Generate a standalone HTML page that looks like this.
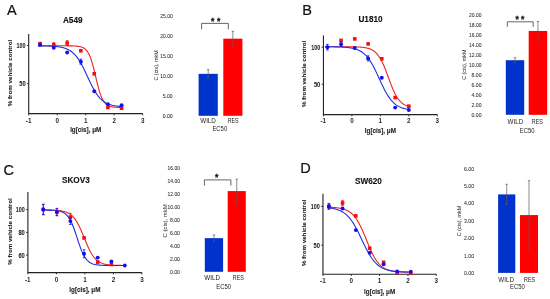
<!DOCTYPE html>
<html><head><meta charset="utf-8"><style>
html,body{margin:0;padding:0;background:#fff;}
body{width:550px;height:299px;overflow:hidden;}
svg{display:block;font-family:"Liberation Sans", sans-serif;filter:blur(0.35px);}
</style></head><body>
<svg width="550" height="299" viewBox="0 0 550 299">
<rect width="550" height="299" fill="#fff"/>
<path d="M28.70 34.00 V113.60 H142.70" fill="none" stroke="#222" stroke-width="1.1"/>
<line x1="28.70" y1="113.60" x2="28.70" y2="115.40" stroke="#222" stroke-width="0.9"/>
<text x="28.60" y="122.60" font-size="6.3" font-weight="bold" text-anchor="middle" fill="#2a2a2a">-1</text>
<line x1="57.20" y1="113.60" x2="57.20" y2="115.40" stroke="#222" stroke-width="0.9"/>
<text x="57.20" y="122.60" font-size="6.3" font-weight="bold" text-anchor="middle" fill="#2a2a2a">0</text>
<line x1="85.70" y1="113.60" x2="85.70" y2="115.40" stroke="#222" stroke-width="0.9"/>
<text x="85.70" y="122.60" font-size="6.3" font-weight="bold" text-anchor="middle" fill="#2a2a2a">1</text>
<line x1="114.20" y1="113.60" x2="114.20" y2="115.40" stroke="#222" stroke-width="0.9"/>
<text x="114.20" y="122.60" font-size="6.3" font-weight="bold" text-anchor="middle" fill="#2a2a2a">2</text>
<line x1="142.70" y1="113.60" x2="142.70" y2="115.40" stroke="#222" stroke-width="0.9"/>
<text x="142.70" y="122.60" font-size="6.3" font-weight="bold" text-anchor="middle" fill="#2a2a2a">3</text>
<line x1="26.90" y1="45.50" x2="28.70" y2="45.50" stroke="#222" stroke-width="0.9"/>
<text x="16.60" y="48.00" font-size="6.3" font-weight="bold" textLength="9.0" lengthAdjust="spacingAndGlyphs" fill="#222" stroke="#222" stroke-width="0.05">100</text>
<line x1="26.90" y1="83.70" x2="28.70" y2="83.70" stroke="#222" stroke-width="0.9"/>
<text x="19.20" y="86.20" font-size="6.3" font-weight="bold" textLength="6.4" lengthAdjust="spacingAndGlyphs" fill="#222" stroke="#222" stroke-width="0.05">50</text>
<text x="72.75" y="22.80" font-size="8.2" font-weight="bold" text-anchor="middle" fill="#111" stroke="#111" stroke-width="0.12">A549</text>
<text x="85.70" y="132.40" font-size="6.3" font-weight="bold" text-anchor="middle" fill="#222" stroke="#222" stroke-width="0.1">lg[cis], μM</text>
<text transform="translate(12.00 73.00) rotate(-90)" x="0" y="0" font-size="6.2" font-weight="bold" text-anchor="middle" fill="#222" stroke="#222" stroke-width="0.1">% from vehicle control</text>
<path d="M38.00 45.80 L38.71 45.80 L39.42 45.80 L40.12 45.80 L40.83 45.80 L41.54 45.80 L42.25 45.80 L42.96 45.80 L43.67 45.80 L44.38 45.80 L45.08 45.80 L45.79 45.80 L46.50 45.80 L47.21 45.80 L47.92 45.80 L48.62 45.80 L49.33 45.80 L50.04 45.80 L50.75 45.80 L51.46 45.80 L52.17 45.80 L52.88 45.80 L53.58 45.80 L54.29 45.80 L55.00 45.80 L55.71 45.80 L56.42 45.80 L57.12 45.80 L57.83 45.80 L58.54 45.80 L59.25 45.80 L59.96 45.80 L60.67 45.80 L61.38 45.80 L62.08 45.81 L62.79 45.81 L63.50 45.81 L64.21 45.81 L64.92 45.81 L65.62 45.82 L66.33 45.82 L67.04 45.82 L67.75 45.83 L68.46 45.83 L69.17 45.84 L69.88 45.85 L70.58 45.86 L71.29 45.88 L72.00 45.89 L72.71 45.91 L73.42 45.94 L74.12 45.97 L74.83 46.00 L75.54 46.04 L76.25 46.10 L76.96 46.16 L77.67 46.24 L78.38 46.33 L79.08 46.44 L79.79 46.58 L80.50 46.74 L81.21 46.94 L81.92 47.18 L82.63 47.47 L83.33 47.81 L84.04 48.23 L84.75 48.72 L85.46 49.32 L86.17 50.02 L86.88 50.85 L87.58 51.83 L88.29 52.97 L89.00 54.30 L89.71 55.83 L90.42 57.58 L91.12 59.54 L91.83 61.73 L92.54 64.14 L93.25 66.74 L93.96 69.51 L94.67 72.40 L95.38 75.38 L96.08 78.38 L96.79 81.34 L97.50 84.22 L98.21 86.97 L98.92 89.54 L99.62 91.92 L100.33 94.07 L101.04 96.00 L101.75 97.72 L102.46 99.21 L103.17 100.51 L103.88 101.63 L104.58 102.59 L105.29 103.40 L106.00 104.08 L106.71 104.66 L107.42 105.14 L108.12 105.55 L108.83 105.88 L109.54 106.16 L110.25 106.39 L110.96 106.59 L111.67 106.75 L112.38 106.88 L113.08 106.99 L113.79 107.08 L114.50 107.15 L115.21 107.21 L115.92 107.26 L116.62 107.31 L117.33 107.34 L118.04 107.37 L118.75 107.39 L119.46 107.41 L120.17 107.43 L120.88 107.44 L121.58 107.45 L122.29 107.46 L123.00 107.47" fill="none" stroke="#ee2222" stroke-width="1.1"/>
<path d="M38.00 45.86 L38.71 45.86 L39.42 45.87 L40.12 45.88 L40.83 45.88 L41.54 45.89 L42.25 45.90 L42.96 45.91 L43.67 45.93 L44.38 45.94 L45.08 45.95 L45.79 45.97 L46.50 45.99 L47.21 46.01 L47.92 46.03 L48.62 46.05 L49.33 46.08 L50.04 46.11 L50.75 46.14 L51.46 46.18 L52.17 46.22 L52.88 46.26 L53.58 46.31 L54.29 46.36 L55.00 46.42 L55.71 46.48 L56.42 46.56 L57.12 46.63 L57.83 46.72 L58.54 46.82 L59.25 46.92 L59.96 47.04 L60.67 47.16 L61.38 47.30 L62.08 47.46 L62.79 47.63 L63.50 47.81 L64.21 48.02 L64.92 48.24 L65.62 48.49 L66.33 48.76 L67.04 49.05 L67.75 49.38 L68.46 49.73 L69.17 50.11 L69.88 50.53 L70.58 50.99 L71.29 51.48 L72.00 52.02 L72.71 52.60 L73.42 53.23 L74.12 53.91 L74.83 54.65 L75.54 55.43 L76.25 56.27 L76.96 57.17 L77.67 58.13 L78.38 59.14 L79.08 60.22 L79.79 61.35 L80.50 62.54 L81.21 63.78 L81.92 65.08 L82.63 66.43 L83.33 67.82 L84.04 69.25 L84.75 70.71 L85.46 72.20 L86.17 73.72 L86.88 75.24 L87.58 76.77 L88.29 78.30 L89.00 79.83 L89.71 81.33 L90.42 82.81 L91.12 84.26 L91.83 85.67 L92.54 87.04 L93.25 88.36 L93.96 89.63 L94.67 90.85 L95.38 92.01 L96.08 93.12 L96.79 94.16 L97.50 95.15 L98.21 96.08 L98.92 96.95 L99.62 97.76 L100.33 98.52 L101.04 99.22 L101.75 99.88 L102.46 100.49 L103.17 101.05 L103.88 101.56 L104.58 102.04 L105.29 102.48 L106.00 102.88 L106.71 103.25 L107.42 103.59 L108.12 103.89 L108.83 104.18 L109.54 104.43 L110.25 104.67 L110.96 104.88 L111.67 105.08 L112.38 105.26 L113.08 105.42 L113.79 105.57 L114.50 105.70 L115.21 105.82 L115.92 105.93 L116.62 106.03 L117.33 106.12 L118.04 106.21 L118.75 106.28 L119.46 106.35 L120.17 106.41 L120.88 106.47 L121.58 106.52 L122.29 106.56 L123.00 106.60" fill="none" stroke="#1f2de0" stroke-width="1.1"/>
<rect x="38.30" y="41.80" width="3.6" height="3.6" fill="#f01010"/>
<path d="M53.78 42.60 V47.00 M52.48 42.60 H55.08 M52.48 47.00 H55.08" stroke="#f01010" stroke-width="0.8" fill="none"/>
<rect x="51.98" y="43.00" width="3.6" height="3.6" fill="#f01010"/>
<path d="M67.17 40.60 V45.60 M65.88 40.60 H68.47 M65.88 45.60 H68.47" stroke="#f01010" stroke-width="0.8" fill="none"/>
<rect x="65.38" y="41.30" width="3.6" height="3.6" fill="#f01010"/>
<rect x="79.06" y="49.00" width="3.6" height="3.6" fill="#f01010"/>
<rect x="92.45" y="72.00" width="3.6" height="3.6" fill="#f01010"/>
<rect x="106.13" y="105.70" width="3.6" height="3.6" fill="#f01010"/>
<rect x="119.81" y="106.50" width="3.6" height="3.6" fill="#f01010"/>
<circle cx="40.10" cy="44.70" r="1.95" fill="#1010ee"/>
<circle cx="53.78" cy="47.80" r="1.95" fill="#1010ee"/>
<circle cx="67.17" cy="52.50" r="1.95" fill="#1010ee"/>
<path d="M80.86 59.10 V64.30 M79.56 59.10 H82.16 M79.56 64.30 H82.16" stroke="#1010ee" stroke-width="0.8" fill="none"/>
<circle cx="80.86" cy="61.70" r="1.95" fill="#1010ee"/>
<circle cx="94.25" cy="91.30" r="1.95" fill="#1010ee"/>
<circle cx="107.93" cy="104.20" r="1.95" fill="#1010ee"/>
<circle cx="121.61" cy="105.30" r="1.95" fill="#1010ee"/>
<path d="M323.43 35.60 V114.60 H437.31" fill="none" stroke="#222" stroke-width="1.1"/>
<line x1="323.43" y1="114.60" x2="323.43" y2="116.40" stroke="#222" stroke-width="0.9"/>
<text x="323.33" y="123.00" font-size="6.3" font-weight="bold" text-anchor="middle" fill="#2a2a2a">-1</text>
<line x1="351.90" y1="114.60" x2="351.90" y2="116.40" stroke="#222" stroke-width="0.9"/>
<text x="351.90" y="123.00" font-size="6.3" font-weight="bold" text-anchor="middle" fill="#2a2a2a">0</text>
<line x1="380.37" y1="114.60" x2="380.37" y2="116.40" stroke="#222" stroke-width="0.9"/>
<text x="380.37" y="123.00" font-size="6.3" font-weight="bold" text-anchor="middle" fill="#2a2a2a">1</text>
<line x1="408.84" y1="114.60" x2="408.84" y2="116.40" stroke="#222" stroke-width="0.9"/>
<text x="408.84" y="123.00" font-size="6.3" font-weight="bold" text-anchor="middle" fill="#2a2a2a">2</text>
<line x1="437.31" y1="114.60" x2="437.31" y2="116.40" stroke="#222" stroke-width="0.9"/>
<text x="437.31" y="123.00" font-size="6.3" font-weight="bold" text-anchor="middle" fill="#2a2a2a">3</text>
<line x1="321.63" y1="47.20" x2="323.43" y2="47.20" stroke="#222" stroke-width="0.9"/>
<text x="311.33" y="49.70" font-size="6.3" font-weight="bold" textLength="9.0" lengthAdjust="spacingAndGlyphs" fill="#222" stroke="#222" stroke-width="0.05">100</text>
<line x1="321.63" y1="84.30" x2="323.43" y2="84.30" stroke="#222" stroke-width="0.9"/>
<text x="313.93" y="86.80" font-size="6.3" font-weight="bold" textLength="6.4" lengthAdjust="spacingAndGlyphs" fill="#222" stroke="#222" stroke-width="0.05">50</text>
<text x="370.50" y="21.70" font-size="8.2" font-weight="bold" text-anchor="middle" fill="#111" stroke="#111" stroke-width="0.12">U1810</text>
<text x="380.37" y="132.60" font-size="6.3" font-weight="bold" text-anchor="middle" fill="#222" stroke="#222" stroke-width="0.1">lg[cis], μM</text>
<text transform="translate(306.30 73.90) rotate(-90)" x="0" y="0" font-size="6.2" font-weight="bold" text-anchor="middle" fill="#222" stroke="#222" stroke-width="0.1">% from vehicle control</text>
<path d="M325.00 46.70 L325.71 46.70 L326.42 46.70 L327.12 46.70 L327.83 46.70 L328.54 46.70 L329.25 46.70 L329.96 46.70 L330.67 46.70 L331.38 46.70 L332.08 46.70 L332.79 46.70 L333.50 46.70 L334.21 46.70 L334.92 46.70 L335.62 46.71 L336.33 46.71 L337.04 46.71 L337.75 46.71 L338.46 46.71 L339.17 46.71 L339.88 46.71 L340.58 46.71 L341.29 46.71 L342.00 46.72 L342.71 46.72 L343.42 46.72 L344.12 46.72 L344.83 46.73 L345.54 46.73 L346.25 46.73 L346.96 46.74 L347.67 46.74 L348.38 46.75 L349.08 46.76 L349.79 46.76 L350.50 46.77 L351.21 46.78 L351.92 46.79 L352.62 46.81 L353.33 46.82 L354.04 46.84 L354.75 46.86 L355.46 46.88 L356.17 46.90 L356.88 46.93 L357.58 46.96 L358.29 46.99 L359.00 47.03 L359.71 47.07 L360.42 47.12 L361.12 47.18 L361.83 47.24 L362.54 47.32 L363.25 47.40 L363.96 47.49 L364.67 47.59 L365.38 47.71 L366.08 47.85 L366.79 48.00 L367.50 48.17 L368.21 48.36 L368.92 48.57 L369.62 48.82 L370.33 49.09 L371.04 49.40 L371.75 49.74 L372.46 50.13 L373.17 50.56 L373.88 51.04 L374.58 51.58 L375.29 52.18 L376.00 52.84 L376.71 53.57 L377.42 54.38 L378.12 55.26 L378.83 56.23 L379.54 57.29 L380.25 58.44 L380.96 59.69 L381.67 61.02 L382.38 62.45 L383.08 63.97 L383.79 65.58 L384.50 67.26 L385.21 69.02 L385.92 70.84 L386.62 72.71 L387.33 74.61 L388.04 76.53 L388.75 78.46 L389.46 80.39 L390.17 82.28 L390.88 84.14 L391.58 85.95 L392.29 87.70 L393.00 89.37 L393.71 90.96 L394.42 92.47 L395.12 93.89 L395.83 95.21 L396.54 96.44 L397.25 97.57 L397.96 98.62 L398.67 99.58 L399.38 100.45 L400.08 101.25 L400.79 101.97 L401.50 102.62 L402.21 103.21 L402.92 103.74 L403.62 104.21 L404.33 104.63 L405.04 105.01 L405.75 105.35 L406.46 105.65 L407.17 105.92 L407.88 106.16 L408.58 106.37 L409.29 106.56 L410.00 106.73" fill="none" stroke="#ee2222" stroke-width="1.1"/>
<path d="M325.00 46.74 L325.71 46.74 L326.42 46.74 L327.12 46.75 L327.83 46.75 L328.54 46.76 L329.25 46.77 L329.96 46.77 L330.67 46.78 L331.38 46.79 L332.08 46.80 L332.79 46.81 L333.50 46.82 L334.21 46.83 L334.92 46.84 L335.62 46.86 L336.33 46.87 L337.04 46.89 L337.75 46.91 L338.46 46.93 L339.17 46.96 L339.88 46.98 L340.58 47.01 L341.29 47.04 L342.00 47.08 L342.71 47.12 L343.42 47.16 L344.12 47.21 L344.83 47.26 L345.54 47.32 L346.25 47.38 L346.96 47.45 L347.67 47.52 L348.38 47.60 L349.08 47.69 L349.79 47.79 L350.50 47.90 L351.21 48.03 L351.92 48.16 L352.62 48.30 L353.33 48.46 L354.04 48.64 L354.75 48.83 L355.46 49.04 L356.17 49.27 L356.88 49.52 L357.58 49.79 L358.29 50.09 L359.00 50.42 L359.71 50.78 L360.42 51.17 L361.12 51.59 L361.83 52.05 L362.54 52.54 L363.25 53.08 L363.96 53.66 L364.67 54.29 L365.38 54.96 L366.08 55.69 L366.79 56.47 L367.50 57.30 L368.21 58.19 L368.92 59.14 L369.62 60.14 L370.33 61.20 L371.04 62.32 L371.75 63.50 L372.46 64.73 L373.17 66.02 L373.88 67.36 L374.58 68.74 L375.29 70.17 L376.00 71.63 L376.71 73.12 L377.42 74.64 L378.12 76.18 L378.83 77.73 L379.54 79.28 L380.25 80.83 L380.96 82.37 L381.67 83.89 L382.38 85.39 L383.08 86.86 L383.79 88.29 L384.50 89.67 L385.21 91.02 L385.92 92.31 L386.62 93.55 L387.33 94.73 L388.04 95.86 L388.75 96.93 L389.46 97.94 L390.17 98.89 L390.88 99.79 L391.58 100.63 L392.29 101.42 L393.00 102.15 L393.71 102.83 L394.42 103.46 L395.12 104.05 L395.83 104.59 L396.54 105.10 L397.25 105.56 L397.96 105.98 L398.67 106.38 L399.38 106.74 L400.08 107.07 L400.79 107.37 L401.50 107.65 L402.21 107.90 L402.92 108.13 L403.62 108.35 L404.33 108.54 L405.04 108.72 L405.75 108.88 L406.46 109.02 L407.17 109.16 L407.88 109.28 L408.58 109.39 L409.29 109.49 L410.00 109.59" fill="none" stroke="#1f2de0" stroke-width="1.1"/>
<rect x="339.28" y="38.60" width="3.6" height="3.6" fill="#f01010"/>
<rect x="352.95" y="37.10" width="3.6" height="3.6" fill="#f01010"/>
<rect x="366.33" y="42.10" width="3.6" height="3.6" fill="#f01010"/>
<rect x="379.99" y="57.00" width="3.6" height="3.6" fill="#f01010"/>
<rect x="393.37" y="95.80" width="3.6" height="3.6" fill="#f01010"/>
<rect x="407.04" y="104.40" width="3.6" height="3.6" fill="#f01010"/>
<path d="M327.42 44.40 V50.00 M326.12 44.40 H328.72 M326.12 50.00 H328.72" stroke="#1010ee" stroke-width="0.8" fill="none"/>
<circle cx="327.42" cy="47.20" r="1.95" fill="#1010ee"/>
<path d="M341.08 42.20 V46.20 M339.78 42.20 H342.38 M339.78 46.20 H342.38" stroke="#1010ee" stroke-width="0.8" fill="none"/>
<circle cx="341.08" cy="44.20" r="1.95" fill="#1010ee"/>
<circle cx="354.75" cy="48.00" r="1.95" fill="#1010ee"/>
<path d="M368.13 55.80 V61.00 M366.83 55.80 H369.43 M366.83 61.00 H369.43" stroke="#1010ee" stroke-width="0.8" fill="none"/>
<circle cx="368.13" cy="58.40" r="1.95" fill="#1010ee"/>
<circle cx="381.79" cy="77.70" r="1.95" fill="#1010ee"/>
<circle cx="395.17" cy="107.60" r="1.95" fill="#1010ee"/>
<circle cx="408.84" cy="110.00" r="1.95" fill="#1010ee"/>
<path d="M27.90 192.00 V272.60 H141.90" fill="none" stroke="#222" stroke-width="1.1"/>
<line x1="27.90" y1="272.60" x2="27.90" y2="274.40" stroke="#222" stroke-width="0.9"/>
<text x="27.80" y="281.80" font-size="6.3" font-weight="bold" text-anchor="middle" fill="#2a2a2a">-1</text>
<line x1="56.40" y1="272.60" x2="56.40" y2="274.40" stroke="#222" stroke-width="0.9"/>
<text x="56.40" y="281.80" font-size="6.3" font-weight="bold" text-anchor="middle" fill="#2a2a2a">0</text>
<line x1="84.90" y1="272.60" x2="84.90" y2="274.40" stroke="#222" stroke-width="0.9"/>
<text x="84.90" y="281.80" font-size="6.3" font-weight="bold" text-anchor="middle" fill="#2a2a2a">1</text>
<line x1="113.40" y1="272.60" x2="113.40" y2="274.40" stroke="#222" stroke-width="0.9"/>
<text x="113.40" y="281.80" font-size="6.3" font-weight="bold" text-anchor="middle" fill="#2a2a2a">2</text>
<line x1="141.90" y1="272.60" x2="141.90" y2="274.40" stroke="#222" stroke-width="0.9"/>
<text x="141.90" y="281.80" font-size="6.3" font-weight="bold" text-anchor="middle" fill="#2a2a2a">3</text>
<line x1="26.10" y1="209.60" x2="27.90" y2="209.60" stroke="#222" stroke-width="0.9"/>
<text x="15.80" y="212.10" font-size="6.3" font-weight="bold" textLength="9.0" lengthAdjust="spacingAndGlyphs" fill="#222" stroke="#222" stroke-width="0.05">100</text>
<line x1="26.10" y1="232.35" x2="27.90" y2="232.35" stroke="#222" stroke-width="0.9"/>
<text x="18.40" y="234.85" font-size="6.3" font-weight="bold" textLength="6.4" lengthAdjust="spacingAndGlyphs" fill="#222" stroke="#222" stroke-width="0.05">80</text>
<line x1="26.10" y1="255.10" x2="27.90" y2="255.10" stroke="#222" stroke-width="0.9"/>
<text x="18.40" y="257.60" font-size="6.3" font-weight="bold" textLength="6.4" lengthAdjust="spacingAndGlyphs" fill="#222" stroke="#222" stroke-width="0.05">60</text>
<text x="75.85" y="182.60" font-size="8.2" font-weight="bold" text-anchor="middle" fill="#111" stroke="#111" stroke-width="0.12">SKOV3</text>
<text x="84.90" y="291.60" font-size="6.3" font-weight="bold" text-anchor="middle" fill="#222" stroke="#222" stroke-width="0.1">lg[cis], μM</text>
<text transform="translate(11.60 231.50) rotate(-90)" x="0" y="0" font-size="6.2" font-weight="bold" text-anchor="middle" fill="#222" stroke="#222" stroke-width="0.1">% from vehicle control</text>
<path d="M42.00 210.03 L42.70 210.03 L43.40 210.04 L44.10 210.04 L44.80 210.05 L45.50 210.06 L46.20 210.06 L46.90 210.07 L47.60 210.08 L48.30 210.09 L49.00 210.11 L49.70 210.12 L50.40 210.14 L51.10 210.15 L51.80 210.17 L52.50 210.20 L53.20 210.22 L53.90 210.25 L54.60 210.29 L55.30 210.32 L56.00 210.37 L56.70 210.42 L57.40 210.47 L58.10 210.53 L58.80 210.60 L59.50 210.68 L60.20 210.77 L60.90 210.87 L61.60 210.98 L62.30 211.11 L63.00 211.26 L63.70 211.42 L64.40 211.60 L65.10 211.81 L65.80 212.04 L66.50 212.29 L67.20 212.58 L67.90 212.91 L68.60 213.27 L69.30 213.68 L70.00 214.13 L70.70 214.63 L71.40 215.18 L72.10 215.80 L72.80 216.48 L73.50 217.22 L74.20 218.04 L74.90 218.94 L75.60 219.91 L76.30 220.96 L77.00 222.10 L77.70 223.32 L78.40 224.62 L79.10 225.99 L79.80 227.45 L80.50 228.97 L81.20 230.55 L81.90 232.19 L82.60 233.86 L83.30 235.57 L84.00 237.29 L84.70 239.01 L85.40 240.73 L86.10 242.42 L86.80 244.08 L87.50 245.69 L88.20 247.25 L88.90 248.74 L89.60 250.16 L90.30 251.50 L91.00 252.76 L91.70 253.94 L92.40 255.04 L93.10 256.05 L93.80 256.99 L94.50 257.85 L95.20 258.63 L95.90 259.35 L96.60 259.99 L97.30 260.58 L98.00 261.11 L98.70 261.59 L99.40 262.02 L100.10 262.40 L100.80 262.75 L101.50 263.05 L102.20 263.33 L102.90 263.57 L103.60 263.79 L104.30 263.99 L105.00 264.16 L105.70 264.31 L106.40 264.45 L107.10 264.57 L107.80 264.68 L108.50 264.77 L109.20 264.86 L109.90 264.93 L110.60 265.00 L111.30 265.06 L112.00 265.11 L112.70 265.15 L113.40 265.19 L114.10 265.23 L114.80 265.26 L115.50 265.29 L116.20 265.31 L116.90 265.33 L117.60 265.35 L118.30 265.37 L119.00 265.39 L119.70 265.40 L120.40 265.41 L121.10 265.42 L121.80 265.43 L122.50 265.44 L123.20 265.45 L123.90 265.45 L124.60 265.46 L125.30 265.46 L126.00 265.47" fill="none" stroke="#ee2222" stroke-width="1.1"/>
<path d="M42.00 210.02 L42.70 210.03 L43.40 210.03 L44.10 210.04 L44.80 210.04 L45.50 210.05 L46.20 210.06 L46.90 210.07 L47.60 210.08 L48.30 210.09 L49.00 210.11 L49.70 210.13 L50.40 210.15 L51.10 210.17 L51.80 210.20 L52.50 210.24 L53.20 210.28 L53.90 210.32 L54.60 210.37 L55.30 210.44 L56.00 210.51 L56.70 210.60 L57.40 210.69 L58.10 210.81 L58.80 210.94 L59.50 211.10 L60.20 211.28 L60.90 211.49 L61.60 211.73 L62.30 212.01 L63.00 212.34 L63.70 212.71 L64.40 213.14 L65.10 213.64 L65.80 214.20 L66.50 214.85 L67.20 215.58 L67.90 216.41 L68.60 217.35 L69.30 218.40 L70.00 219.56 L70.70 220.86 L71.40 222.28 L72.10 223.83 L72.80 225.51 L73.50 227.31 L74.20 229.21 L74.90 231.21 L75.60 233.28 L76.30 235.41 L77.00 237.56 L77.70 239.71 L78.40 241.84 L79.10 243.93 L79.80 245.94 L80.50 247.86 L81.20 249.68 L81.90 251.38 L82.60 252.95 L83.30 254.40 L84.00 255.71 L84.70 256.90 L85.40 257.97 L86.10 258.93 L86.80 259.78 L87.50 260.53 L88.20 261.19 L88.90 261.77 L89.60 262.27 L90.30 262.72 L91.00 263.10 L91.70 263.43 L92.40 263.72 L93.10 263.97 L93.80 264.19 L94.50 264.37 L95.20 264.53 L95.90 264.67 L96.60 264.79 L97.30 264.89 L98.00 264.98 L98.70 265.05 L99.40 265.11 L100.10 265.17 L100.80 265.22 L101.50 265.26 L102.20 265.29 L102.90 265.32 L103.60 265.35 L104.30 265.37 L105.00 265.39 L105.70 265.40 L106.40 265.42 L107.10 265.43 L107.80 265.44 L108.50 265.45 L109.20 265.46 L109.90 265.46 L110.60 265.47 L111.30 265.47 L112.00 265.48 L112.70 265.48 L113.40 265.48 L114.10 265.49 L114.80 265.49 L115.50 265.49 L116.20 265.49 L116.90 265.49 L117.60 265.49 L118.30 265.49 L119.00 265.50 L119.70 265.50 L120.40 265.50 L121.10 265.50 L121.80 265.50 L122.50 265.50 L123.20 265.50 L123.90 265.50 L124.60 265.50 L125.30 265.50 L126.00 265.50" fill="none" stroke="#1f2de0" stroke-width="1.1"/>
<path d="M43.29 204.10 V214.90 M41.99 204.10 H44.59 M41.99 214.90 H44.59" stroke="#f01010" stroke-width="0.8" fill="none"/>
<rect x="41.49" y="207.70" width="3.6" height="3.6" fill="#f01010"/>
<path d="M56.88 208.30 V215.90 M55.58 208.30 H58.18 M55.58 215.90 H58.18" stroke="#f01010" stroke-width="0.8" fill="none"/>
<rect x="55.08" y="210.30" width="3.6" height="3.6" fill="#f01010"/>
<path d="M70.36 213.30 V220.90 M69.06 213.30 H71.66 M69.06 220.90 H71.66" stroke="#f01010" stroke-width="0.8" fill="none"/>
<rect x="68.56" y="215.30" width="3.6" height="3.6" fill="#f01010"/>
<rect x="82.25" y="236.10" width="3.6" height="3.6" fill="#f01010"/>
<rect x="95.92" y="260.30" width="3.6" height="3.6" fill="#f01010"/>
<rect x="109.61" y="262.70" width="3.6" height="3.6" fill="#f01010"/>
<path d="M43.29 204.50 V214.50 M41.99 204.50 H44.59 M41.99 214.50 H44.59" stroke="#1010ee" stroke-width="0.8" fill="none"/>
<circle cx="43.29" cy="209.50" r="1.95" fill="#1010ee"/>
<path d="M56.88 208.70 V215.50 M55.58 208.70 H58.18 M55.58 215.50 H58.18" stroke="#1010ee" stroke-width="0.8" fill="none"/>
<circle cx="56.88" cy="212.10" r="1.95" fill="#1010ee"/>
<path d="M70.36 217.70 V224.50 M69.06 217.70 H71.66 M69.06 224.50 H71.66" stroke="#1010ee" stroke-width="0.8" fill="none"/>
<circle cx="70.36" cy="221.10" r="1.95" fill="#1010ee"/>
<path d="M84.05 249.80 V257.80 M82.75 249.80 H85.34 M82.75 257.80 H85.34" stroke="#1010ee" stroke-width="0.8" fill="none"/>
<circle cx="84.05" cy="253.80" r="1.95" fill="#1010ee"/>
<circle cx="97.72" cy="257.60" r="1.95" fill="#1010ee"/>
<circle cx="111.41" cy="261.50" r="1.95" fill="#1010ee"/>
<circle cx="124.80" cy="265.50" r="1.95" fill="#1010ee"/>
<path d="M322.97 193.80 V274.20 H436.29" fill="none" stroke="#222" stroke-width="1.1"/>
<line x1="322.97" y1="274.20" x2="322.97" y2="276.00" stroke="#222" stroke-width="0.9"/>
<text x="322.87" y="283.30" font-size="6.3" font-weight="bold" text-anchor="middle" fill="#2a2a2a">-1</text>
<line x1="351.30" y1="274.20" x2="351.30" y2="276.00" stroke="#222" stroke-width="0.9"/>
<text x="351.30" y="283.30" font-size="6.3" font-weight="bold" text-anchor="middle" fill="#2a2a2a">0</text>
<line x1="379.63" y1="274.20" x2="379.63" y2="276.00" stroke="#222" stroke-width="0.9"/>
<text x="379.63" y="283.30" font-size="6.3" font-weight="bold" text-anchor="middle" fill="#2a2a2a">1</text>
<line x1="407.96" y1="274.20" x2="407.96" y2="276.00" stroke="#222" stroke-width="0.9"/>
<text x="407.96" y="283.30" font-size="6.3" font-weight="bold" text-anchor="middle" fill="#2a2a2a">2</text>
<line x1="436.29" y1="274.20" x2="436.29" y2="276.00" stroke="#222" stroke-width="0.9"/>
<text x="436.29" y="283.30" font-size="6.3" font-weight="bold" text-anchor="middle" fill="#2a2a2a">3</text>
<line x1="321.17" y1="206.40" x2="322.97" y2="206.40" stroke="#222" stroke-width="0.9"/>
<text x="310.87" y="208.90" font-size="6.3" font-weight="bold" textLength="9.0" lengthAdjust="spacingAndGlyphs" fill="#222" stroke="#222" stroke-width="0.05">100</text>
<line x1="321.17" y1="245.20" x2="322.97" y2="245.20" stroke="#222" stroke-width="0.9"/>
<text x="313.47" y="247.70" font-size="6.3" font-weight="bold" textLength="6.4" lengthAdjust="spacingAndGlyphs" fill="#222" stroke="#222" stroke-width="0.05">50</text>
<text x="368.50" y="183.80" font-size="8.2" font-weight="bold" text-anchor="middle" fill="#111" stroke="#111" stroke-width="0.12">SW620</text>
<text x="379.63" y="293.80" font-size="6.3" font-weight="bold" text-anchor="middle" fill="#222" stroke="#222" stroke-width="0.1">lg[cis], μM</text>
<text transform="translate(306.20 232.80) rotate(-90)" x="0" y="0" font-size="6.2" font-weight="bold" text-anchor="middle" fill="#222" stroke="#222" stroke-width="0.1">% from vehicle control</text>
<path d="M327.00 207.18 L327.71 207.20 L328.42 207.22 L329.12 207.24 L329.83 207.27 L330.54 207.30 L331.25 207.33 L331.96 207.37 L332.67 207.41 L333.38 207.46 L334.08 207.51 L334.79 207.57 L335.50 207.63 L336.21 207.70 L336.92 207.78 L337.62 207.86 L338.33 207.96 L339.04 208.06 L339.75 208.18 L340.46 208.31 L341.17 208.46 L341.88 208.61 L342.58 208.79 L343.29 208.99 L344.00 209.20 L344.71 209.44 L345.42 209.70 L346.12 209.99 L346.83 210.31 L347.54 210.66 L348.25 211.05 L348.96 211.47 L349.67 211.94 L350.38 212.45 L351.08 213.00 L351.79 213.61 L352.50 214.27 L353.21 214.99 L353.92 215.76 L354.62 216.60 L355.33 217.51 L356.04 218.48 L356.75 219.53 L357.46 220.64 L358.17 221.82 L358.88 223.08 L359.58 224.41 L360.29 225.80 L361.00 227.26 L361.71 228.77 L362.42 230.35 L363.12 231.97 L363.83 233.63 L364.54 235.32 L365.25 237.04 L365.96 238.77 L366.67 240.51 L367.38 242.25 L368.08 243.97 L368.79 245.66 L369.50 247.32 L370.21 248.94 L370.92 250.52 L371.62 252.03 L372.33 253.49 L373.04 254.88 L373.75 256.21 L374.46 257.47 L375.17 258.65 L375.88 259.77 L376.58 260.81 L377.29 261.78 L378.00 262.69 L378.71 263.53 L379.42 264.31 L380.12 265.03 L380.83 265.69 L381.54 266.29 L382.25 266.85 L382.96 267.36 L383.67 267.82 L384.38 268.25 L385.08 268.63 L385.79 268.99 L386.50 269.30 L387.21 269.60 L387.92 269.86 L388.62 270.10 L389.33 270.31 L390.04 270.51 L390.75 270.68 L391.46 270.84 L392.17 270.99 L392.88 271.12 L393.58 271.24 L394.29 271.34 L395.00 271.44 L395.71 271.52 L396.42 271.60 L397.12 271.67 L397.83 271.73 L398.54 271.79 L399.25 271.84 L399.96 271.89 L400.67 271.93 L401.38 271.97 L402.08 272.00 L402.79 272.03 L403.50 272.06 L404.21 272.08 L404.92 272.10 L405.62 272.12 L406.33 272.14 L407.04 272.16 L407.75 272.17 L408.46 272.18 L409.17 272.20 L409.88 272.21 L410.58 272.22 L411.29 272.22 L412.00 272.23" fill="none" stroke="#ee2222" stroke-width="1.1"/>
<path d="M327.00 207.70 L327.71 207.77 L328.42 207.84 L329.12 207.92 L329.83 208.01 L330.54 208.10 L331.25 208.21 L331.96 208.32 L332.67 208.45 L333.38 208.58 L334.08 208.73 L334.79 208.89 L335.50 209.07 L336.21 209.26 L336.92 209.47 L337.62 209.70 L338.33 209.95 L339.04 210.22 L339.75 210.51 L340.46 210.83 L341.17 211.18 L341.88 211.56 L342.58 211.96 L343.29 212.40 L344.00 212.87 L344.71 213.39 L345.42 213.94 L346.12 214.53 L346.83 215.16 L347.54 215.84 L348.25 216.57 L348.96 217.35 L349.67 218.18 L350.38 219.06 L351.08 219.99 L351.79 220.97 L352.50 222.01 L353.21 223.10 L353.92 224.24 L354.62 225.44 L355.33 226.68 L356.04 227.97 L356.75 229.30 L357.46 230.67 L358.17 232.07 L358.88 233.51 L359.58 234.97 L360.29 236.45 L361.00 237.94 L361.71 239.44 L362.42 240.94 L363.12 242.44 L363.83 243.92 L364.54 245.39 L365.25 246.83 L365.96 248.24 L366.67 249.62 L367.38 250.96 L368.08 252.26 L368.79 253.51 L369.50 254.71 L370.21 255.87 L370.92 256.97 L371.62 258.02 L372.33 259.01 L373.04 259.95 L373.75 260.84 L374.46 261.68 L375.17 262.47 L375.88 263.21 L376.58 263.90 L377.29 264.54 L378.00 265.14 L378.71 265.70 L379.42 266.22 L380.12 266.70 L380.83 267.15 L381.54 267.56 L382.25 267.94 L382.96 268.30 L383.67 268.62 L384.38 268.92 L385.08 269.20 L385.79 269.45 L386.50 269.68 L387.21 269.90 L387.92 270.09 L388.62 270.27 L389.33 270.44 L390.04 270.59 L390.75 270.73 L391.46 270.85 L392.17 270.97 L392.88 271.08 L393.58 271.17 L394.29 271.26 L395.00 271.34 L395.71 271.42 L396.42 271.49 L397.12 271.55 L397.83 271.61 L398.54 271.66 L399.25 271.70 L399.96 271.75 L400.67 271.79 L401.38 271.82 L402.08 271.86 L402.79 271.89 L403.50 271.91 L404.21 271.94 L404.92 271.96 L405.62 271.98 L406.33 272.00 L407.04 272.02 L407.75 272.04 L408.46 272.05 L409.17 272.06 L409.88 272.07 L410.58 272.09 L411.29 272.10 L412.00 272.11" fill="none" stroke="#1f2de0" stroke-width="1.1"/>
<path d="M328.92 203.40 V209.40 M327.62 203.40 H330.22 M327.62 209.40 H330.22" stroke="#f01010" stroke-width="0.8" fill="none"/>
<rect x="327.12" y="204.60" width="3.6" height="3.6" fill="#f01010"/>
<path d="M342.52 200.40 V205.60 M341.22 200.40 H343.82 M341.22 205.60 H343.82" stroke="#f01010" stroke-width="0.8" fill="none"/>
<rect x="340.72" y="201.20" width="3.6" height="3.6" fill="#f01010"/>
<rect x="354.03" y="214.10" width="3.6" height="3.6" fill="#f01010"/>
<rect x="367.91" y="246.40" width="3.6" height="3.6" fill="#f01010"/>
<rect x="381.80" y="260.50" width="3.6" height="3.6" fill="#f01010"/>
<rect x="395.39" y="271.10" width="3.6" height="3.6" fill="#f01010"/>
<rect x="408.99" y="271.50" width="3.6" height="3.6" fill="#f01010"/>
<path d="M328.92 203.90 V208.90 M327.62 203.90 H330.22 M327.62 208.90 H330.22" stroke="#1010ee" stroke-width="0.8" fill="none"/>
<circle cx="328.92" cy="206.40" r="1.95" fill="#1010ee"/>
<circle cx="342.52" cy="208.50" r="1.95" fill="#1010ee"/>
<circle cx="355.83" cy="230.10" r="1.95" fill="#1010ee"/>
<circle cx="369.71" cy="252.80" r="1.95" fill="#1010ee"/>
<circle cx="383.60" cy="264.30" r="1.95" fill="#1010ee"/>
<circle cx="397.19" cy="271.40" r="1.95" fill="#1010ee"/>
<circle cx="410.79" cy="271.80" r="1.95" fill="#1010ee"/>
<text x="162.70" y="117.85" font-size="5.8" textLength="10.0" lengthAdjust="spacingAndGlyphs" fill="#333" stroke="#333" stroke-width="0.08">0.00</text>
<text x="162.70" y="97.87" font-size="5.8" textLength="10.0" lengthAdjust="spacingAndGlyphs" fill="#333" stroke="#333" stroke-width="0.08">5.00</text>
<text x="160.30" y="77.89" font-size="5.8" textLength="12.4" lengthAdjust="spacingAndGlyphs" fill="#333" stroke="#333" stroke-width="0.08">10.00</text>
<text x="160.30" y="57.91" font-size="5.8" textLength="12.4" lengthAdjust="spacingAndGlyphs" fill="#333" stroke="#333" stroke-width="0.08">15.00</text>
<text x="160.30" y="37.93" font-size="5.8" textLength="12.4" lengthAdjust="spacingAndGlyphs" fill="#333" stroke="#333" stroke-width="0.08">20.00</text>
<text x="160.30" y="17.95" font-size="5.8" textLength="12.4" lengthAdjust="spacingAndGlyphs" fill="#333" stroke="#333" stroke-width="0.08">25.00</text>
<rect x="198.60" y="73.84" width="19.20" height="41.96" fill="#0033cc"/>
<path d="M208.20 69.65 V78.04 M207.00 69.65 H209.40 M207.00 78.04 H209.40" stroke="#5a5a5a" stroke-width="0.7" fill="none"/>
<rect x="223.30" y="38.68" width="19.10" height="77.12" fill="#ff0000"/>
<path d="M232.85 31.28 V46.07 M231.65 31.28 H234.05 M231.65 46.07 H234.05" stroke="#5a5a5a" stroke-width="0.7" fill="none"/>
<path d="M201.60 29.40 V23.40 H228.30 V29.40" stroke="#555" stroke-width="0.9" fill="none"/>
<text x="212.80" y="24.10" font-size="8.6" font-weight="bold" text-anchor="middle" fill="#1a1a1a" stroke="#1a1a1a" stroke-width="0.3">*</text>
<text x="218.80" y="24.10" font-size="8.6" font-weight="bold" text-anchor="middle" fill="#1a1a1a" stroke="#1a1a1a" stroke-width="0.3">*</text>
<text x="200.25" y="123.00" font-size="7.0" textLength="15.6" lengthAdjust="spacingAndGlyphs" fill="#222">WILD</text>
<text x="227.70" y="123.00" font-size="7.0" textLength="11.0" lengthAdjust="spacingAndGlyphs" fill="#222">RES</text>
<text x="212.40" y="130.60" font-size="7.0" textLength="14.8" lengthAdjust="spacingAndGlyphs" fill="#222">EC50</text>
<text transform="translate(158.40 65.40) rotate(-90)" font-size="5.4" text-anchor="middle" fill="#2a2a2a">C (cis), mkM</text>
<text x="471.50" y="116.85" font-size="5.8" textLength="10.0" lengthAdjust="spacingAndGlyphs" fill="#333" stroke="#333" stroke-width="0.08">0.00</text>
<text x="471.50" y="106.87" font-size="5.8" textLength="10.0" lengthAdjust="spacingAndGlyphs" fill="#333" stroke="#333" stroke-width="0.08">2.00</text>
<text x="471.50" y="96.89" font-size="5.8" textLength="10.0" lengthAdjust="spacingAndGlyphs" fill="#333" stroke="#333" stroke-width="0.08">4.00</text>
<text x="471.50" y="86.91" font-size="5.8" textLength="10.0" lengthAdjust="spacingAndGlyphs" fill="#333" stroke="#333" stroke-width="0.08">6.00</text>
<text x="471.50" y="76.93" font-size="5.8" textLength="10.0" lengthAdjust="spacingAndGlyphs" fill="#333" stroke="#333" stroke-width="0.08">8.00</text>
<text x="469.10" y="66.95" font-size="5.8" textLength="12.4" lengthAdjust="spacingAndGlyphs" fill="#333" stroke="#333" stroke-width="0.08">10.00</text>
<text x="469.10" y="56.97" font-size="5.8" textLength="12.4" lengthAdjust="spacingAndGlyphs" fill="#333" stroke="#333" stroke-width="0.08">12.00</text>
<text x="469.10" y="46.99" font-size="5.8" textLength="12.4" lengthAdjust="spacingAndGlyphs" fill="#333" stroke="#333" stroke-width="0.08">14.00</text>
<text x="469.10" y="37.01" font-size="5.8" textLength="12.4" lengthAdjust="spacingAndGlyphs" fill="#333" stroke="#333" stroke-width="0.08">16.00</text>
<text x="469.10" y="27.03" font-size="5.8" textLength="12.4" lengthAdjust="spacingAndGlyphs" fill="#333" stroke="#333" stroke-width="0.08">18.00</text>
<text x="469.10" y="17.05" font-size="5.8" textLength="12.4" lengthAdjust="spacingAndGlyphs" fill="#333" stroke="#333" stroke-width="0.08">20.00</text>
<rect x="505.80" y="60.21" width="18.40" height="54.59" fill="#0033cc"/>
<path d="M515.00 57.71 V62.70 M513.80 57.71 H516.20 M513.80 62.70 H516.20" stroke="#5a5a5a" stroke-width="0.7" fill="none"/>
<rect x="528.70" y="30.97" width="18.50" height="83.83" fill="#ff0000"/>
<path d="M537.95 21.49 V40.45 M536.75 21.49 H539.15 M536.75 40.45 H539.15" stroke="#5a5a5a" stroke-width="0.7" fill="none"/>
<path d="M507.30 26.80 V21.80 H533.20 V26.80" stroke="#555" stroke-width="0.9" fill="none"/>
<text x="517.10" y="22.20" font-size="8.6" font-weight="bold" text-anchor="middle" fill="#1a1a1a" stroke="#1a1a1a" stroke-width="0.3">*</text>
<text x="522.80" y="22.20" font-size="8.6" font-weight="bold" text-anchor="middle" fill="#1a1a1a" stroke="#1a1a1a" stroke-width="0.3">*</text>
<text x="507.55" y="123.90" font-size="7.0" textLength="15.6" lengthAdjust="spacingAndGlyphs" fill="#222">WILD</text>
<text x="531.85" y="123.90" font-size="7.0" textLength="11.0" lengthAdjust="spacingAndGlyphs" fill="#222">RES</text>
<text x="519.75" y="132.50" font-size="7.0" textLength="14.8" lengthAdjust="spacingAndGlyphs" fill="#222">EC50</text>
<text transform="translate(466.20 64.70) rotate(-90)" font-size="5.4" text-anchor="middle" fill="#2a2a2a">C (cis), mkM</text>
<text x="169.90" y="273.85" font-size="5.8" textLength="10.0" lengthAdjust="spacingAndGlyphs" fill="#333" stroke="#333" stroke-width="0.08">0.00</text>
<text x="169.90" y="260.93" font-size="5.8" textLength="10.0" lengthAdjust="spacingAndGlyphs" fill="#333" stroke="#333" stroke-width="0.08">2.00</text>
<text x="169.90" y="248.00" font-size="5.8" textLength="10.0" lengthAdjust="spacingAndGlyphs" fill="#333" stroke="#333" stroke-width="0.08">4.00</text>
<text x="169.90" y="235.08" font-size="5.8" textLength="10.0" lengthAdjust="spacingAndGlyphs" fill="#333" stroke="#333" stroke-width="0.08">6.00</text>
<text x="169.90" y="222.15" font-size="5.8" textLength="10.0" lengthAdjust="spacingAndGlyphs" fill="#333" stroke="#333" stroke-width="0.08">8.00</text>
<text x="167.50" y="209.23" font-size="5.8" textLength="12.4" lengthAdjust="spacingAndGlyphs" fill="#333" stroke="#333" stroke-width="0.08">10.00</text>
<text x="167.50" y="196.30" font-size="5.8" textLength="12.4" lengthAdjust="spacingAndGlyphs" fill="#333" stroke="#333" stroke-width="0.08">12.00</text>
<text x="167.50" y="183.38" font-size="5.8" textLength="12.4" lengthAdjust="spacingAndGlyphs" fill="#333" stroke="#333" stroke-width="0.08">14.00</text>
<text x="167.50" y="170.45" font-size="5.8" textLength="12.4" lengthAdjust="spacingAndGlyphs" fill="#333" stroke="#333" stroke-width="0.08">16.00</text>
<rect x="204.80" y="238.13" width="18.30" height="33.67" fill="#0033cc"/>
<path d="M213.95 234.90 V241.36 M212.75 234.90 H215.15 M212.75 241.36 H215.15" stroke="#5a5a5a" stroke-width="0.7" fill="none"/>
<rect x="227.70" y="191.08" width="18.10" height="80.72" fill="#ff0000"/>
<path d="M236.75 179.13 V203.04 M235.55 179.13 H237.95 M235.55 203.04 H237.95" stroke="#5a5a5a" stroke-width="0.7" fill="none"/>
<path d="M204.40 185.60 V179.90 H230.90 V185.60" stroke="#555" stroke-width="0.9" fill="none"/>
<text x="216.80" y="179.70" font-size="8.6" font-weight="bold" text-anchor="middle" fill="#1a1a1a" stroke="#1a1a1a" stroke-width="0.3">*</text>
<text x="204.35" y="279.90" font-size="7.0" textLength="15.6" lengthAdjust="spacingAndGlyphs" fill="#222">WILD</text>
<text x="232.80" y="279.90" font-size="7.0" textLength="11.0" lengthAdjust="spacingAndGlyphs" fill="#222">RES</text>
<text x="216.35" y="289.10" font-size="7.0" textLength="14.8" lengthAdjust="spacingAndGlyphs" fill="#222">EC50</text>
<text transform="translate(167.40 220.90) rotate(-90)" font-size="5.9" text-anchor="middle" fill="#2a2a2a">C (cis), mkM</text>
<text x="464.00" y="274.95" font-size="5.8" textLength="10.0" lengthAdjust="spacingAndGlyphs" fill="#333" stroke="#333" stroke-width="0.08">0.00</text>
<text x="464.00" y="257.58" font-size="5.8" textLength="10.0" lengthAdjust="spacingAndGlyphs" fill="#333" stroke="#333" stroke-width="0.08">1.00</text>
<text x="464.00" y="240.21" font-size="5.8" textLength="10.0" lengthAdjust="spacingAndGlyphs" fill="#333" stroke="#333" stroke-width="0.08">2.00</text>
<text x="464.00" y="222.84" font-size="5.8" textLength="10.0" lengthAdjust="spacingAndGlyphs" fill="#333" stroke="#333" stroke-width="0.08">3.00</text>
<text x="464.00" y="205.47" font-size="5.8" textLength="10.0" lengthAdjust="spacingAndGlyphs" fill="#333" stroke="#333" stroke-width="0.08">4.00</text>
<text x="464.00" y="188.10" font-size="5.8" textLength="10.0" lengthAdjust="spacingAndGlyphs" fill="#333" stroke="#333" stroke-width="0.08">5.00</text>
<text x="464.00" y="170.73" font-size="5.8" textLength="10.0" lengthAdjust="spacingAndGlyphs" fill="#333" stroke="#333" stroke-width="0.08">6.00</text>
<rect x="498.10" y="194.39" width="17.20" height="78.51" fill="#0033cc"/>
<path d="M506.70 184.31 V204.46 M505.50 184.31 H507.90 M505.50 204.46 H507.90" stroke="#5a5a5a" stroke-width="0.7" fill="none"/>
<rect x="520.00" y="215.06" width="18.00" height="57.84" fill="#ff0000"/>
<path d="M529.00 180.67 V249.45 M527.80 180.67 H530.20 M527.80 249.45 H530.20" stroke="#5a5a5a" stroke-width="0.7" fill="none"/>
<text x="498.35" y="281.80" font-size="7.0" textLength="15.6" lengthAdjust="spacingAndGlyphs" fill="#222">WILD</text>
<text x="524.10" y="281.80" font-size="7.0" textLength="11.0" lengthAdjust="spacingAndGlyphs" fill="#222">RES</text>
<text x="509.95" y="288.70" font-size="7.0" textLength="14.8" lengthAdjust="spacingAndGlyphs" fill="#222">EC50</text>
<text transform="translate(460.60 221.00) rotate(-90)" font-size="5.4" text-anchor="middle" fill="#2a2a2a">C (cis), mkM</text>
<text x="6.90" y="15.40" font-size="14.5" fill="#111" stroke="#111" stroke-width="0.2">A</text>
<text x="302.20" y="14.50" font-size="14.5" fill="#111" stroke="#111" stroke-width="0.2">B</text>
<text x="3.60" y="175.20" font-size="14.5" fill="#111" stroke="#111" stroke-width="0.2">C</text>
<text x="300.30" y="172.50" font-size="14.5" fill="#111" stroke="#111" stroke-width="0.2">D</text>
</svg></body></html>
